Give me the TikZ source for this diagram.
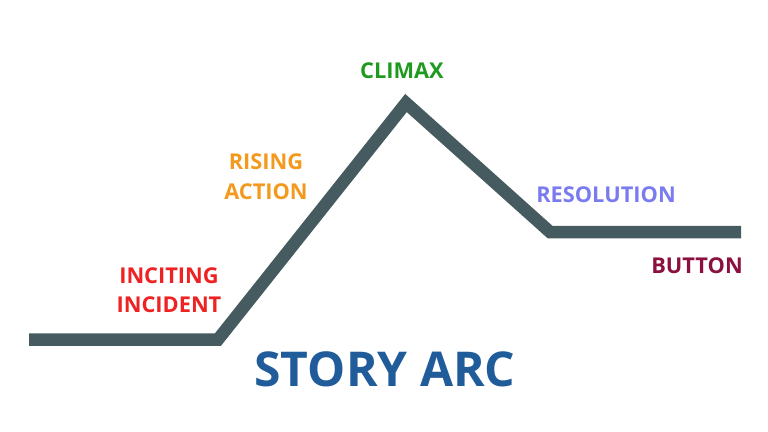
\documentclass[tikz,border=0pt]{standalone}
\usepackage{fontspec}
\setmainfont{Open Sans}
\definecolor{arcline}{HTML}{455B5F}
\definecolor{climaxc}{HTML}{1E9A1E}
\definecolor{risingc}{HTML}{F39A1E}
\definecolor{incitc}{HTML}{EE2222}
\definecolor{resolc}{HTML}{7B7BF0}
\definecolor{buttonc}{HTML}{8B1040}
\definecolor{titlec}{HTML}{1F5C99}
\tikzset{
  lbl/.style={font=\fontsize{21.8}{29.5}\selectfont\bfseries, align=center, inner sep=0pt, anchor=center},
  arc/.style={draw=arcline, line width=12.5pt, line join=miter, line cap=butt}
}
\begin{document}
\begin{tikzpicture}[x=1pt,y=-1pt]
\useasboundingbox (0,0) rectangle (768,431);
\coordinate (start) at (29,339.5);
\coordinate (c1) at (218,339.5);
\coordinate (peak) at (406,103);
\coordinate (c2) at (550,232);
\coordinate (stop) at (741,232);
\draw[arc] (start) -- (c1) -- (peak) -- (c2) -- (stop);
\node[lbl, text=climaxc] (climax) at (402,71) {CLIMAX};
\node[lbl, text=risingc] (rising) at (266,176.5) {RISING\\ACTION};
\node[lbl, text=incitc] (inciting) at (169,290) {INCITING\\INCIDENT};
\node[lbl, text=resolc] (resol) at (606,195) {RESOLUTION};
\node[lbl, text=buttonc] (button) at (697,265.5) {BUTTON};
\node[font=\fontsize{48}{48}\selectfont\bfseries, text=titlec, inner sep=0pt] (title) at (385,369.5) {STORY ARC};
\end{tikzpicture}
\end{document}
